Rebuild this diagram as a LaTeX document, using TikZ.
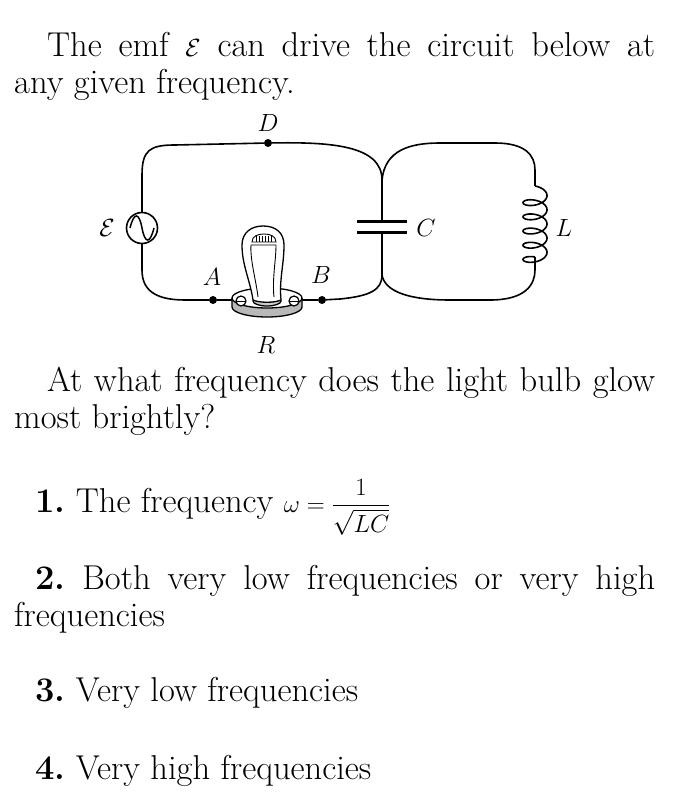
\documentclass[tikz,border=0pt]{standalone}
\usepackage{amsmath}
\frenchspacing
\begin{document}
\begin{tikzpicture}[x=1pt,y=-1pt,
  wire/.style={line width=1.6pt},
  dot/.style={circle,fill,inner sep=0pt,minimum size=8pt},
  txt/.style={anchor=base west,inner sep=0pt,font=\fontsize{34.5}{42}\selectfont},
  lbl/.style={inner sep=1pt,font=\fontsize{34.5}{42}\selectfont}]
\useasboundingbox (0,0) rectangle (680,802);
% text
\node[txt] (t1) at (47,57) {\makebox[608pt][s]{The emf $\mathcal{E}$ can drive the circuit below at}};
\node[txt] (t2) at (14,94) {any given frequency.};
\node[txt] (t3) at (47,391) {\makebox[608pt][s]{At what frequency does the light bulb glow}};
\node[txt] (t4) at (14,428) {most brightly?};
\node[txt] (o1) at (35,512) {\textbf{1.} The frequency $\omega=\dfrac{1}{\sqrt{LC}}$};
\node[txt] (o2) at (35,589) {\makebox[620pt][s]{\textbf{2.} Both very low frequencies or very high}};
\node[txt] (o2b) at (14,626) {frequencies};
\node[txt] (o3) at (35,701) {\textbf{3.} Very low frequencies};
\node[txt] (o4) at (35,779) {\textbf{4.} Very high frequencies};
% circuit coordinates
\coordinate (st) at (142,213);
\coordinate (sb) at (142,243);
\coordinate (jt) at (382,180);
\coordinate (jb) at (382,275);
\coordinate (ct) at (382,222);
\coordinate (cb) at (382,232);
\coordinate (lt) at (535,186);
\coordinate (lb) at (535,257);
\node[dot] (D) at (268,143) {};
\node[dot] (A) at (213,300) {};
\node[dot] (B) at (322,300) {};
% left loop
\draw[wire] (st) -- (142,175) .. controls (142,150) and (150,145) .. (175,145) -- (D)
  .. controls (330,142) and (382,145) .. (jt) -- (ct);
\draw[wire] (sb) -- (142,270) .. controls (142,290) and (155,300) .. (185,300) -- (A) -- (241,300);
\draw[wire] (294,300) -- (B) -- (340,299) .. controls (370,296) and (382,290) .. (jb) -- (cb);
% right loop
\draw[wire] (jt) .. controls (385,150) and (410,143) .. (440,143) -- (495,143)
  .. controls (525,143) and (535,155) .. (535,170) -- (lt);
\draw[wire] (jb) .. controls (385,292) and (410,300) .. (450,300) -- (490,300)
  .. controls (525,300) and (535,285) .. (535,270) -- (lb);
% capacitor
\draw[line width=3pt] (357,222) -- (407,222) (357,232) -- (407,232);
% inductor
\draw[wire] plot[domain=0:1800,samples=250,smooth,variable=\t]
  ({535+12*sin(\t)},{186+\t/1800*71+6*(1-cos(\t))});
% source
\node[circle,draw,line width=1.6pt,minimum size=31pt,inner sep=0pt] (S) at (142,228) {};
\draw[line width=1.5pt] (130,228) .. controls (134,212) and (139,212) .. (142,228) .. controls (145,244) and (150,244) .. (154,228);
% lamp
\fill[gray!55] (232pt,-298pt) -- (232pt,-307pt) arc[start angle=180,end angle=360,x radius=35pt,y radius=10pt] -- (302pt,-298pt) -- cycle;
\draw[line width=1.3pt] (232pt,-298pt) -- (232pt,-307pt) arc[start angle=180,end angle=360,x radius=35pt,y radius=10pt] -- (302pt,-298pt);
\draw[line width=1.3pt,fill=white] (267,298) ellipse[x radius=35pt,y radius=10pt];
\draw[line width=1.3pt,fill=gray!40] (267,301) ellipse[x radius=14pt,y radius=5pt];
\draw[line width=1.3pt,fill=white] (253,300) .. controls (250,280) and (242,265) .. (242,245)
  .. controls (242,232) and (252,226) .. (263,226) .. controls (276,226) and (284,233) .. (284,245)
  .. controls (284,265) and (279,280) .. (281,300) .. controls (275,303) and (259,303) .. (253,300) -- cycle;
\draw[line width=0.9pt] (258,297) .. controls (256,280) and (250,260) .. (251,245) -- (276,245) .. controls (276,260) and (272,280) .. (274,297);
\draw[line width=0.9pt] (252,242) .. controls (252,236) and (258,234) .. (264,234) .. controls (270,234) and (276,236) .. (276,242) -- cycle;
\foreach \i in {0,...,5} \draw[line width=0.6pt] ({256+\i*3},236) -- ({256+\i*3},242);
\draw[line width=1.2pt,fill=white] (241,301) circle (5pt) (294,301) circle (5pt);
\draw[line width=1pt] (236,301) -- (246,301) (289,301) -- (299,301);
% labels
\node[lbl] (Dl) at (268,123) {$D$};
\node[lbl] (Al) at (212,277) {$A$};
\node[lbl] (Bl) at (321,275) {$B$};
\node[lbl] (Rl) at (266,345) {$R$};
\node[lbl] (Cl) at (426,228) {$C$};
\node[lbl] (Ll) at (564,228) {$L$};
\node[lbl] (El) at (107,228) {$\mathcal{E}$};
\end{tikzpicture}
\end{document}
